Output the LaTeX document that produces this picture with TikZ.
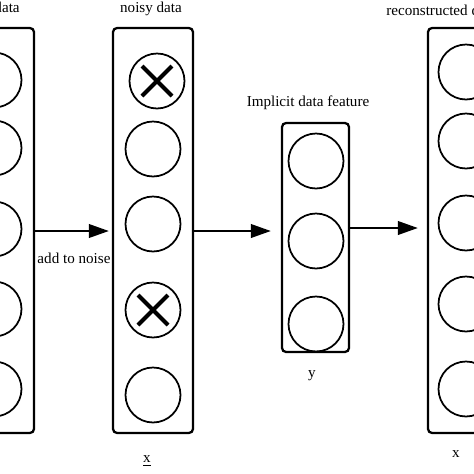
\documentclass[tikz,border=0pt]{standalone}
\usepackage{fontspec}
\setmainfont{Liberation Serif}
\usetikzlibrary{arrows.meta, positioning}

\begin{document}
\begin{tikzpicture}[
        x=0.02cm, y=-0.02cm,
        layer/.style={rectangle, draw, line width=1.3pt, rounded corners=0.08cm, minimum width=1.6cm, minimum height=8.1cm, inner sep=0pt},
        unit/.style={circle, draw, line width=1pt, minimum size=1.1cm, inner sep=0pt},
        cross/.style={line width=2.4pt},
        arrow/.style={-{Triangle[length=0.4cm, width=0.27cm]}, line width=1.3pt},
        lbl/.style={inner sep=0pt, font=\fontsize{8.6}{10}\selectfont}
    ]
        \clip (0,0) rectangle (474,474);
        % layers
        \node[layer] (in) at (-6,230.5) {};
        \node[layer] (noisy) at (153,230.5) {};
        \node[layer, minimum width=1.34cm, minimum height=4.58cm] (code) at (315.5,237.5) {};
        \node[layer] (out) at (468,230.5) {};
        % units
        \foreach \i/\y in {1/80, 2/148, 3/229, 4/309, 5/389}
            \node[unit] (in\i) at (-6,\y) {};
        \node[unit] (noisy1) at (157,81) {};
        \node[unit] (noisy2) at (153,149) {};
        \node[unit] (noisy3) at (153,224) {};
        \node[unit] (noisy4) at (153,310) {};
        \node[unit] (noisy5) at (153,395) {};
        \foreach \i/\y in {1/161, 2/241, 3/324}
            \node[unit] (code\i) at (316,\y) {};
        \foreach \i/\y in {1/72, 2/141, 3/223, 4/304, 5/389}
            \node[unit] (out\i) at (466,\y) {};
        % corrupted units
        \foreach \n in {noisy1, noisy4} {
            \draw[cross] (\n.center) ++(-15,-15) -- ++(30,30);
            \draw[cross] (\n.center) ++(-15,15) -- ++(30,-30);
        }
        % labels
        \node[lbl, anchor=east] (tin) at (20,9) {original data};
        \node[lbl] (tnoisy) at (151,9) {noisy data};
        \node[lbl] (tcode) at (308,103) {Implicit data feature};
        \node[lbl, anchor=west] (tout) at (386,10) {reconstructed data};
        \node[lbl] (noise) at (74,258) {add to noise};
        \node[lbl] (xt) at (147,461) {\underline{x}};
        \node[lbl] (yc) at (312,376) {y};
        \node[lbl] (xr) at (456,454) {x};
        % connections
        \draw[arrow] (in.east |- 0,231) -- ([xshift=-0.06cm]noisy.west |- 0,231);
        \draw[arrow] (noisy.east |- 0,231) -- ([xshift=-0.2cm]code.west |- 0,231);
        \draw[arrow] (code.east |- 0,228) -- ([xshift=-0.18cm]out.west |- 0,228);
    \end{tikzpicture}
\end{document}
